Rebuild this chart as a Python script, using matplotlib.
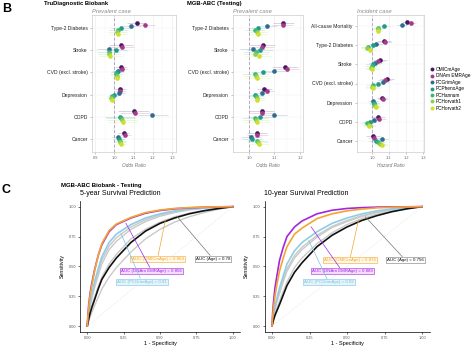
import matplotlib
matplotlib.use("Agg")
import matplotlib.pyplot as plt
from matplotlib.lines import Line2D

plt.rcParams['font.family'] = ['Liberation Sans', 'DejaVu Sans']

# ---- panel B data ----
clocks = ['OMICmAge', 'DNAm EMRAge', 'PCGrimAge', 'PCPhenoAge', 'PCHannum', 'PCHorvath1', 'PCHorvath2']
clock_colors = ['#46175f', '#a8388a', '#2f6c8e', '#22998a', '#3bb872', '#8dcf52', '#cde02e']

prev_rows = ['Type-2 Diabetes', 'Stroke', 'CVD (excl. stroke)', 'Depression', 'COPD', 'Cancer']
inc_rows = ['All-cause Mortality', 'Type-2 Diabetes', 'Stroke', 'CVD (excl. stroke)', 'Depression', 'COPD', 'Cancer']

# one row per outcome, one value per clock (same order as clocks)
tru_or = [
    [1.117, 1.160, 1.087, 1.035, 1.020, 1.015, 1.020],
    [1.035, 1.040, 0.972, 1.010, 0.970, 0.975, 0.980],
    [1.035, 1.040, 1.020, 1.015, 1.010, 1.012, 1.015],
    [1.030, 1.032, 1.025, 1.000, 0.990, 0.985, 0.990],
    [1.100, 1.110, 1.197, 1.030, 1.035, 1.040, 1.045],
    [1.048, 1.058, 1.020, 1.025, 1.030, 1.030, 1.035],
]
tru_ci = [0.05, 0.06, 0.03, 0.03, 0.08, 0.03]

mgb_or = [
    [1.135, 1.132, 1.069, 1.034, 1.024, 1.031, 1.035],
    [1.053, 1.050, 1.014, 1.043, 1.027, 1.025, 1.040],
    [1.141, 1.148, 1.098, 1.056, 1.024, 1.027, 1.032],
    [1.060, 1.069, 1.050, 1.024, 1.027, 1.032, 1.032],
    [1.050, 1.049, 1.098, 1.043, 1.024, 1.027, 1.032],
    [1.031, 1.033, 1.008, 1.012, 1.033, 1.035, 1.040],
]
mgb_ci = [0.04, 0.05, 0.05, 0.03, 0.05, 0.04]

mgb_hr = [
    [1.204, 1.230, 1.175, 1.070, 1.037, 1.033, 1.037],
    [1.070, 1.075, 1.024, 1.004, 0.978, 0.973, 0.988],
    [1.047, 1.037, 1.020, 1.006, 0.998, 0.997, 1.000],
    [1.090, 1.076, 1.063, 1.033, 1.006, 0.998, 1.006],
    [1.057, 1.063, 1.006, 1.010, 1.014, 1.020, 1.025],
    [1.037, 1.043, 1.014, 0.988, 0.970, 0.980, 0.985],
    [1.006, 1.014, 1.057, 1.024, 1.037, 1.047, 1.057],
]
mgb_hr_ci = [0.03, 0.04, 0.04, 0.04, 0.03, 0.04, 0.04]

# ---- panel C data (ROC points) ----
fpr = [0, 0.005, 0.01, 0.02, 0.03, 0.05, 0.075, 0.1, 0.15, 0.2, 0.3, 0.4, 0.5, 0.6, 0.7, 0.8, 0.9, 1.0]

y5_omic = [0, 0.09, 0.16, 0.26, 0.33, 0.46, 0.59, 0.69, 0.80, 0.855, 0.91, 0.95, 0.972, 0.985, 0.992, 0.996, 0.999, 1]
y5_emr = [0, 0.10, 0.18, 0.28, 0.35, 0.47, 0.59, 0.68, 0.79, 0.85, 0.905, 0.945, 0.968, 0.982, 0.99, 0.995, 0.998, 1]
y5_grim = [0, 0.07, 0.12, 0.20, 0.26, 0.37, 0.48, 0.58, 0.70, 0.77, 0.85, 0.905, 0.94, 0.965, 0.98, 0.99, 0.997, 1]
y5_age = [0, 0.03, 0.06, 0.11, 0.15, 0.22, 0.31, 0.39, 0.49, 0.57, 0.70, 0.795, 0.86, 0.905, 0.94, 0.965, 0.984, 1]
y5_other = [
    [0, 0.06, 0.11, 0.18, 0.24, 0.34, 0.45, 0.55, 0.67, 0.74, 0.83, 0.89, 0.93, 0.958, 0.976, 0.988, 0.996, 1],
    [0, 0.055, 0.10, 0.17, 0.22, 0.32, 0.42, 0.52, 0.64, 0.71, 0.81, 0.875, 0.92, 0.95, 0.972, 0.986, 0.995, 1],
    [0, 0.04, 0.07, 0.13, 0.17, 0.24, 0.33, 0.41, 0.52, 0.60, 0.73, 0.81, 0.87, 0.915, 0.946, 0.968, 0.986, 1],
    [0, 0.02, 0.04, 0.08, 0.11, 0.17, 0.24, 0.31, 0.41, 0.49, 0.62, 0.73, 0.81, 0.87, 0.915, 0.95, 0.978, 1],
]

y10_omic = [0, 0.09, 0.15, 0.25, 0.33, 0.46, 0.57, 0.665, 0.77, 0.82, 0.90, 0.94, 0.965, 0.98, 0.99, 0.995, 0.998, 1]
y10_emr = [0, 0.12, 0.20, 0.32, 0.40, 0.55, 0.66, 0.75, 0.83, 0.88, 0.94, 0.97, 0.985, 0.992, 0.996, 0.998, 0.999, 1]
y10_grim = [0, 0.05, 0.09, 0.16, 0.22, 0.32, 0.42, 0.52, 0.63, 0.70, 0.79, 0.86, 0.905, 0.94, 0.965, 0.982, 0.993, 1]
y10_age = [0, 0.025, 0.05, 0.09, 0.12, 0.18, 0.26, 0.34, 0.45, 0.53, 0.665, 0.76, 0.83, 0.885, 0.925, 0.958, 0.982, 1]
y10_other = [
    [0, 0.045, 0.08, 0.15, 0.20, 0.29, 0.39, 0.48, 0.59, 0.66, 0.76, 0.835, 0.885, 0.925, 0.955, 0.976, 0.99, 1],
    [0, 0.04, 0.075, 0.14, 0.19, 0.27, 0.37, 0.46, 0.57, 0.64, 0.745, 0.825, 0.875, 0.918, 0.95, 0.973, 0.989, 1],
    [0, 0.03, 0.06, 0.10, 0.14, 0.21, 0.29, 0.37, 0.49, 0.57, 0.69, 0.78, 0.85, 0.90, 0.937, 0.965, 0.985, 1],
]

auc5 = {'omic': 0.864, 'emr': 0.856, 'grim': 0.81, 'age': 0.78}
auc10 = {'omic': 0.874, 'emr': 0.889, 'grim': 0.82, 'age': 0.756}

W, H = 474, 346
fig = plt.figure(figsize=(W / 100, H / 100), dpi=100)


def px_axes(l, t, r, b):
    return fig.add_axes([l / W, 1 - b / H, (r - l) / W, (b - t) / H])


def forest(ax, rows, vals, ci, xlim, ticks, xlabel, strip):
    n = len(rows)
    for t in ticks:
        ax.axvline(t, color='#ebebeb', lw=0.45, zorder=0)
    for a, b in zip(ticks[:-1], ticks[1:]):
        ax.axvline((a + b) / 2, color='#f4f4f4', lw=0.3, zorder=0)
    for r in range(n):
        ax.axhline(r, color='#f2f2f2', lw=0.35, zorder=0)
    ax.axvline(1.0, color='#b3a6c4', lw=0.7, ls=(0, (3, 2)), zorder=1)
    for r in range(n):
        for i, c in enumerate(clocks):
            y = r + (i - 3) * 0.08
            v = vals[r][i]
            ax.plot([v - ci[r], v + ci[r]], [y, y], color=clock_colors[i],
                    alpha=0.22, lw=0.6, zorder=2, solid_capstyle='butt')
            ax.scatter(v, y, s=11, color=clock_colors[i], lw=0, zorder=3)
    ax.set_xlim(*xlim)
    ax.set_ylim(n - 1 + 0.6, -0.6)
    ax.set_yticks(range(n))
    ax.set_yticklabels(rows, fontsize=3.6, color='#222222')
    ax.set_xticks(ticks)
    ax.set_xticklabels([f'{t:.1f}' for t in ticks], fontsize=2.8, color='#666666')
    ax.tick_params(length=1.5, width=0.4, color='#999999', pad=1.5)
    for s in ax.spines.values():
        s.set_color('#cccccc')
        s.set_linewidth(0.5)
    ax.set_xlabel(xlabel, fontsize=3.4, style='italic', color='#777777', labelpad=2)
    ax.set_title(strip, fontsize=4.2, style='italic', color='#8a8a8a', loc='left', pad=1.5)


ax1 = px_axes(92, 15, 176, 152)
forest(ax1, prev_rows, tru_or, tru_ci, (0.884, 1.321), [0.9, 1.0, 1.1, 1.2, 1.3],
       'Odds Ratio', 'Prevalent case')
ax2 = px_axes(233, 15, 303, 152)
forest(ax2, prev_rows, mgb_or, mgb_ci, (0.937, 1.212), [1.0, 1.1, 1.2],
       'Odds Ratio', 'Prevalent case')
ax3 = px_axes(357, 15, 424, 152)
forest(ax3, inc_rows, mgb_hr, mgb_hr_ci, (0.912, 1.306), [1.0, 1.1, 1.2, 1.3],
       'Hazard Ratio', 'Incident case')

fig.text(2 / W, 1 - 9 / H, 'B', fontsize=9, fontweight='bold', va='center')
fig.text(44 / W, 1 - 3 / H, 'TruDiagnostic Biobank', fontsize=4.2, fontweight='bold', va='center')
fig.text(187 / W, 1 - 3 / H, 'MGB-ABC (Testing)', fontsize=4.2, fontweight='bold', va='center')

handles = [Line2D([], [], ls='', marker='o', ms=2.8, mew=0, color=c) for c in clock_colors]
fig.legend(handles, clocks, loc='upper left', bbox_to_anchor=(430 / W, 1 - 67 / H),
           frameon=False, fontsize=3.4, handlelength=0.9, handletextpad=0.3,
           labelspacing=0.3, borderpad=0, borderaxespad=0)


# ---- panel C ----
def roc(ax, omic, emr, grim, age, others, auc, title, spots):
    ax.plot([0, 1], [0, 1], color='#dedede', lw=0.5, ls=':', zorder=1)
    for o in others:
        ax.plot(fpr, o, color='#c9c9c9', lw=1.0, zorder=2)
    ax.plot(fpr, grim, color='#8fcde6', lw=1.2, zorder=3)
    ax.plot(fpr, age, color='#111111', lw=1.2, zorder=3)
    ax.plot(fpr, emr, color='#a126e0', lw=1.2, zorder=4)
    ax.plot(fpr, omic, color='#f4a531', lw=1.2, zorder=5)
    ax.set_xlim(-0.05, 1.05)
    ax.set_ylim(-0.05, 1.05)
    t = [0, 0.25, 0.5, 0.75, 1.0]
    ax.set_xticks(t)
    ax.set_yticks(t)
    ax.set_xticklabels([f'{v:.2f}' for v in t], fontsize=2.8, color='#555555')
    ax.set_yticklabels([f'{v:.2f}' for v in t], fontsize=2.8, color='#555555')
    ax.tick_params(length=1.5, width=0.4, pad=1.2)
    for s in ['top', 'right']:
        ax.spines[s].set_visible(False)
    for s in ['left', 'bottom']:
        ax.spines[s].set_linewidth(0.5)
    ax.set_xlabel('1 - Specificity', fontsize=4.0, labelpad=0.8)
    ax.set_ylabel('Sensitivity', fontsize=3.8, labelpad=3)
    ax.set_title(title, fontsize=5, loc='left', pad=4)
    styles = {
        'omic': (f"AUC (OMICmAge) = {auc['omic']}", '#f4a531', '#fff9e8', '#f4a531'),
        'emr': (f"AUC (DNAm EMRAge) = {auc['emr']}", '#a126e0', '#f5dcfb', '#a126e0'),
        'grim': (f"AUC (PCGrimAge) = {auc['grim']}", '#7cc2e0', '#e4f4fb', '#7cc2e0'),
        'age': (f"AUC (Age) = {auc['age']}", '#111111', '#ffffff', '#777777'),
    }
    for k, (txt, tc, fc, ec) in styles.items():
        xy, xyt = spots[k]
        ax.annotate(txt, xy=xy, xytext=xyt, ha='center', va='center', fontsize=3.2,
                    color=tc, zorder=6,
                    bbox=dict(boxstyle='square,pad=0.25', fc=fc, ec=ec, lw=0.4),
                    arrowprops=dict(arrowstyle='-', color=ec, lw=0.5,
                                    shrinkA=0, shrinkB=0))


spots5 = {'omic': ((0.537, 0.89), (0.483, 0.564)),
          'age': ((0.617, 0.917), (0.864, 0.564)),
          'emr': ((0.265, 0.862), (0.442, 0.464)),
          'grim': ((0.231, 0.778), (0.374, 0.372))}
spots10 = {'omic': ((0.578, 0.894), (0.518, 0.553)),
           'age': ((0.622, 0.916), (0.889, 0.553)),
           'emr': ((0.26, 0.832), (0.467, 0.461)),
           'grim': ((0.244, 0.72), (0.378, 0.366))}

ax4 = px_axes(80, 200.7, 240, 332)
roc(ax4, y5_omic, y5_emr, y5_grim, y5_age, y5_other, auc5, '5-year Survival Prediction', spots5)
ax5 = px_axes(264.5, 200.7, 429.5, 332)
roc(ax5, y10_omic, y10_emr, y10_grim, y10_age, y10_other, auc10, '10-year Survival Prediction', spots10)

fig.text(2 / W, 1 - 190 / H, 'C', fontsize=9, fontweight='bold', va='center')
fig.text(61 / W, 1 - 185 / H, 'MGB-ABC Biobank - Testing', fontsize=4.3, fontweight='bold', va='center')

fig.savefig('out.png', dpi=100)
